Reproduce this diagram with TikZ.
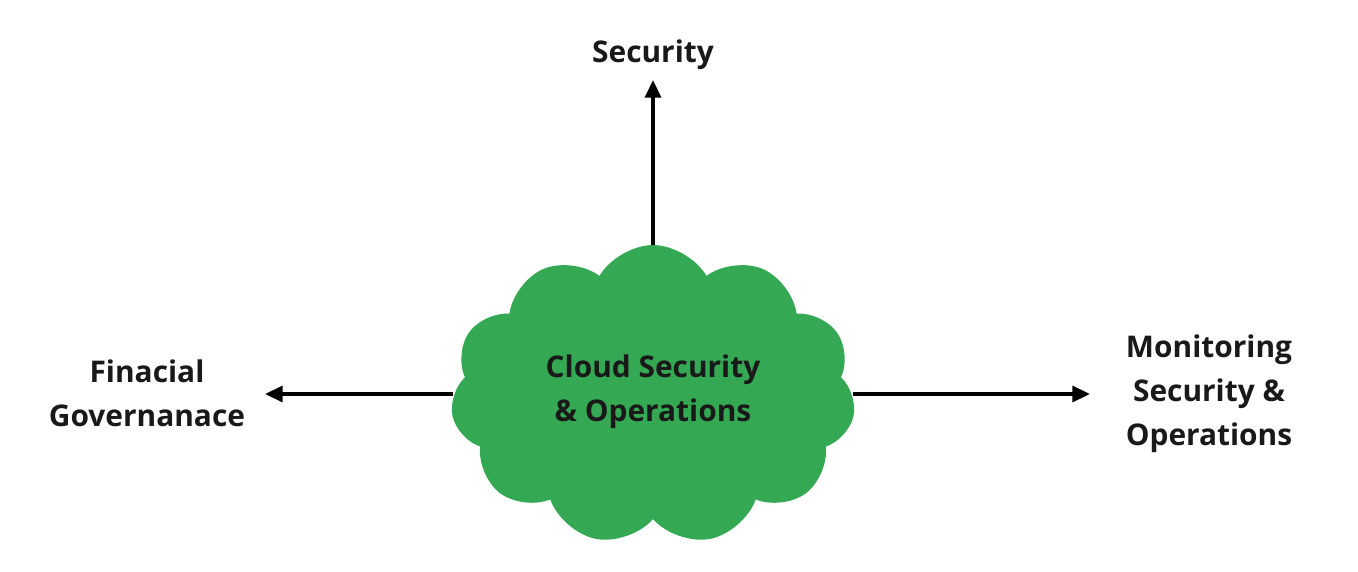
\documentclass[tikz,border=0pt]{standalone}
\usepackage{fontspec}
\setmainfont{Open Sans}
\usetikzlibrary{arrows.meta, positioning, shapes.symbols}
\definecolor{cloudgreen}{RGB}{52,168,83}
\begin{document}
\begin{tikzpicture}[x=0.02cm, y=-0.02cm,
    label/.style={font=\bfseries\fontsize{17}{25}\selectfont, align=center, text=black!90},
    arr/.style={line width=2pt, -{Triangle[length=10pt, width=9pt]}}]
        \useasboundingbox (0,0) rectangle (1358,571);
        \node[cloud, cloud puffs=11, cloud puff arc=120, aspect=1.35, fill=cloudgreen, draw=none,
              minimum width=8.1cm, minimum height=6.0cm, inner sep=0pt] (cloud) at (653,395) {};
        \node[label] (centre) at (653,392) {Cloud Security\\\& Operations};
        \node[label] (security) at (653,55) {Security};
        \node[label] (finance) at (147,393) {Finacial\\Governanace};
        \node[label] (monitor) at (1209,394) {Monitoring\\Security \&\\Operations};
        \coordinate (topend) at (653,80);
        \coordinate (leftend) at (265,394);
        \coordinate (rightend) at (1090,394);
        \draw[arr] (cloud.north) -- (topend);
        \draw[arr] (cloud.west |- leftend) -- (leftend);
        \draw[arr] (cloud.east |- rightend) -- (rightend);
      \end{tikzpicture}
\end{document}
